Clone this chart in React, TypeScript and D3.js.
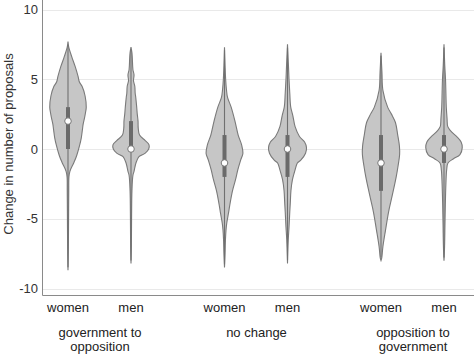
import React from 'react';
import * as d3 from 'd3';

const groups = ['government to|opposition', 'no change', 'opposition to|government'];
const sexes = ['women', 'men'];
const yTicks = [-10, -5, 0, 5, 10];

const medians = [2, 0, -1, 0, -1, 0];
const q1s = [0, 0, -2, -2, -3, -1];
const q3s = [3, 2, 1, 1, 1, 1];

const govWomenVals = [7.7, 7.3, 6.6, 5.9, 5.2, 4.8, 4.5, 3.8, 3.0, 2.6, 2.3, 1.8, 1.4, 0.8, 0.2, -0.5, -1.0, -1.6, -2.0, -3, -5, -7, -8.7];
const govWomenDens = [0, 0.04, 0.2, 0.38, 0.53, 0.6, 0.74, 0.9, 0.96, 0.92, 0.88, 0.8, 0.76, 0.7, 0.6, 0.45, 0.3, 0.1, 0.05, 0.04, 0.03, 0.02, 0];
const govMenVals = [7.3, 6.9, 6.5, 5.7, 5.3, 4.9, 4.5, 4.0, 3.7, 3.0, 2.5, 2.0, 1.5, 1.0, 0.6, 0.3, 0.0, -0.3, -0.55, -1.0, -1.6, -1.9, -3, -5, -7, -8.2];
const govMenDens = [0, 0.05, 0.07, 0.1, 0.16, 0.13, 0.2, 0.22, 0.25, 0.3, 0.33, 0.37, 0.38, 0.45, 0.75, 0.95, 0.93, 0.75, 0.42, 0.26, 0.16, 0.1, 0.05, 0.03, 0.02, 0];
const noWomenVals = [7.3, 6.0, 5.0, 4.3, 3.7, 3.0, 2.0, 1.0, 0.3, -0.3, -0.8, -1.5, -2.2, -3.0, -4.0, -4.6, -5.3, -5.8, -6.5, -7.5, -8.5];
const noWomenDens = [0, 0.03, 0.06, 0.1, 0.16, 0.35, 0.55, 0.72, 0.9, 0.97, 0.85, 0.7, 0.58, 0.42, 0.28, 0.21, 0.12, 0.08, 0.05, 0.03, 0];
const noMenVals = [7.5, 6.0, 5.0, 4.0, 3.0, 2.4, 1.6, 0.9, 0.5, 0.1, -0.3, -0.8, -1.0, -1.5, -2.2, -3.0, -3.8, -4.5, -5.6, -6.5, -8.2];
const noMenDens = [0, 0.05, 0.08, 0.12, 0.17, 0.28, 0.4, 0.63, 0.9, 1.0, 0.95, 0.7, 0.52, 0.4, 0.26, 0.18, 0.15, 0.12, 0.08, 0.04, 0];
const oppWomenVals = [6.9, 5.5, 4.2, 3.0, 2.5, 1.9, 1.0, 0.2, -0.4, -1.2, -2.0, -3.4, -4.5, -5.8, -7.0, -7.8, -8.0];
const oppWomenDens = [0, 0.05, 0.1, 0.35, 0.55, 0.76, 0.88, 0.97, 0.98, 0.9, 0.8, 0.58, 0.4, 0.24, 0.1, 0.04, 0];
const oppMenVals = [7.5, 6.0, 5.0, 4.0, 3.0, 2.2, 1.6, 1.3, 0.9, 0.5, 0.1, -0.4, -0.7, -1.0, -1.5, -2.5, -4.0, -5.5, -7.0, -8.0];
const oppMenDens = [0, 0.04, 0.08, 0.1, 0.12, 0.16, 0.2, 0.35, 0.66, 0.9, 0.96, 0.84, 0.5, 0.21, 0.14, 0.1, 0.07, 0.05, 0.03, 0];

const violinVals = [govWomenVals, govMenVals, noWomenVals, noMenVals, oppWomenVals, oppMenVals];
const violinDens = [govWomenDens, govMenDens, noWomenDens, noMenDens, oppWomenDens, oppMenDens];

const W = 474;
const H = 356;
const FONT = 'Liberation Sans, Arial, Helvetica, sans-serif';

export default function App() {
  const y = d3.scaleLinear().domain([-10, 10]).range([288.5, 9.5]);
  const xg = d3.scaleBand<string>().domain(groups).range([21.75, 491.25]);
  const xs = d3.scalePoint<string>().domain(sexes).range([-32, 31]);
  const w = d3.scaleLinear().domain([0, 1]).range([0, 19]);

  const axisX = 42.5;
  const axisY = 295.5;

  const violins: any[] = [];
  groups.forEach((g, gi) => {
    sexes.forEach((s, si) => {
      const idx = gi * 2 + si;
      const cx = (xg(g) as number) + xg.bandwidth() / 2 + (xs(s) as number);
      const vals = violinVals[idx];
      const dens = violinDens[idx];
      const pts = vals.map((v, i) => [v, dens[i]] as [number, number]);
      const area = d3
        .area<[number, number]>()
        .y((d) => y(d[0]))
        .x0((d) => cx - w(d[1]))
        .x1((d) => cx + w(d[1]))
        .curve(d3.curveCatmullRom.alpha(0.5));
      violins.push({ idx, cx, path: area(pts), top: vals[0], bottom: vals[vals.length - 1] });
    });
  });

  return (
    <svg width={W} height={H} style={{ position: 'absolute', left: 0, top: 0, background: '#fff' }} fontFamily={FONT}>
      <rect x={0} y={0} width={W} height={H} fill="#fff" />
      {yTicks.map((t) => (
        <line key={'g' + t} x1={axisX} x2={W} y1={Math.round(y(t)) + 0.5} y2={Math.round(y(t)) + 0.5} stroke="#e9e9e9" strokeWidth={1} />
      ))}
      {yTicks.map((t) => (
        <text key={'t' + t} x={38} y={y(t)} dy="0.36em" textAnchor="end" fontSize={13} fill="#333">
          {t}
        </text>
      ))}
      <line x1={axisX} x2={axisX} y1={0} y2={axisY} stroke="#8a8a8a" strokeWidth={1} />
      <line x1={axisX} x2={W} y1={axisY} y2={axisY} stroke="#8a8a8a" strokeWidth={1} />
      <text transform={`translate(13,144) rotate(-90)`} textAnchor="middle" fontSize={13} fill="#333">
        Change in number of proposals
      </text>
      {violins.map((v) => (
        <g key={v.idx}>
          <path d={v.path} fill="#c6c6c6" stroke="#7a7a7a" strokeWidth={1.1} />
          <line x1={v.cx} x2={v.cx} y1={y(v.top) + 3} y2={y(v.bottom) - 3} stroke="#707070" strokeWidth={1.1} />
          <rect x={v.cx - 2} width={4} y={y(q3s[v.idx])} height={y(q1s[v.idx]) - y(q3s[v.idx])} fill="#6a6a6a" />
          <circle cx={v.cx} cy={y(medians[v.idx])} r={3.3} fill="#fff" stroke="#777" strokeWidth={1} />
        </g>
      ))}
      {groups.map((g) =>
        sexes.map((s) => (
          <text key={g + s} x={(xg(g) as number) + xg.bandwidth() / 2 + (xs(s) as number)} y={312} textAnchor="middle" fontSize={13} fill="#222">
            {s}
          </text>
        ))
      )}
      {groups.map((g) =>
        g.split('|').map((line, li) => (
          <text key={g + li} x={(xg(g) as number) + xg.bandwidth() / 2} y={337 + li * 14} textAnchor="middle" fontSize={13} fill="#222">
            {line}
          </text>
        ))
      )}
    </svg>
  );
}
